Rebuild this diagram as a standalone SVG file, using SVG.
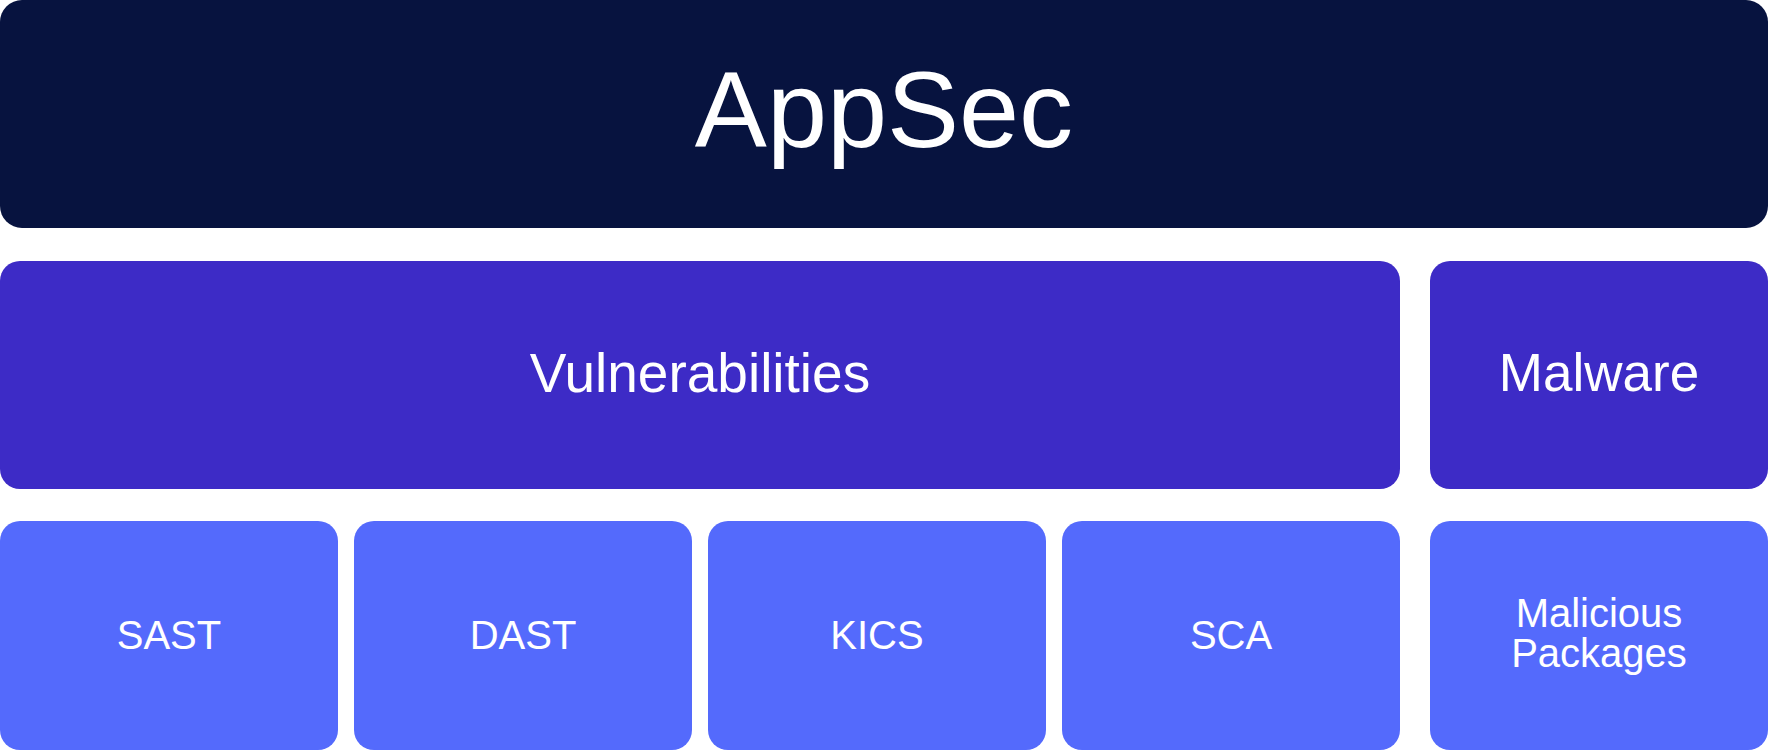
<svg xmlns="http://www.w3.org/2000/svg" width="1768" height="750" viewBox="0 0 1768 750">
<style>
.t{font-family:"Liberation Sans",Arial,Helvetica,sans-serif;fill:#ffffff;text-anchor:middle}
.top{fill:#07133F}
.mid{fill:#3D2BC6}
.low{fill:#546AFC}
</style>
<rect width="1768" height="750" fill="#ffffff"/>
<g id="appsec">
<rect class="top" x="0" y="0" width="1768" height="228" rx="22" ry="22"/>
<text class="t" x="884" y="147" font-size="108">AppSec</text>
</g>
<g id="vulnerabilities">
<rect class="mid" x="0" y="261" width="1400" height="228" rx="20" ry="20"/>
<text class="t" x="700" y="392" font-size="55">Vulnerabilities</text>
</g>
<g id="malware">
<rect class="mid" x="1430" y="261" width="338" height="228" rx="20" ry="20"/>
<text class="t" x="1599" y="391" font-size="53">Malware</text>
</g>
<g id="sast">
<rect class="low" x="0" y="521" width="338" height="229" rx="20" ry="20"/>
<text class="t" x="169" y="649" font-size="40">SAST</text>
</g>
<g id="dast">
<rect class="low" x="354" y="521" width="338" height="229" rx="20" ry="20"/>
<text class="t" x="523" y="649" font-size="40">DAST</text>
</g>
<g id="kics">
<rect class="low" x="708" y="521" width="338" height="229" rx="20" ry="20"/>
<text class="t" x="877" y="649" font-size="40">KICS</text>
</g>
<g id="sca">
<rect class="low" x="1062" y="521" width="338" height="229" rx="20" ry="20"/>
<text class="t" x="1231" y="649" font-size="40">SCA</text>
</g>
<g id="malicious-packages">
<rect class="low" x="1430" y="521" width="338" height="229" rx="20" ry="20"/>
<text class="t" x="1599" y="627" font-size="40">Malicious</text>
<text class="t" x="1599" y="667" font-size="40">Packages</text>
</g>
<g id="connectors"></g>
</svg>
